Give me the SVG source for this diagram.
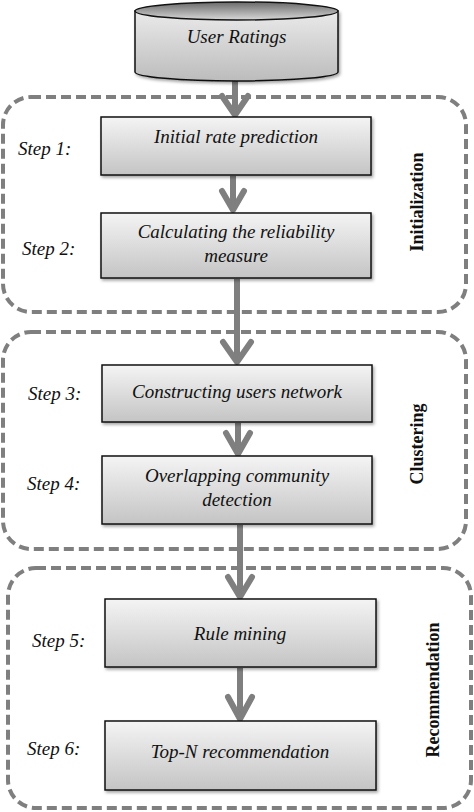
<svg xmlns="http://www.w3.org/2000/svg" width="474" height="812" viewBox="0 0 474 812">
<defs>
<linearGradient id="boxg" x1="0" y1="0" x2="0" y2="1">
<stop offset="0" stop-color="#f4f4f4"/>
<stop offset="1" stop-color="#c4c4c4"/>
</linearGradient>
<linearGradient id="cylg" x1="0" y1="0" x2="0" y2="1">
<stop offset="0" stop-color="#eaeaea"/>
<stop offset="1" stop-color="#bcbcbc"/>
</linearGradient>
<linearGradient id="topg" x1="0" y1="0" x2="0" y2="1">
<stop offset="0" stop-color="#6a6a6a"/>
<stop offset="1" stop-color="#d8d8d8"/>
</linearGradient>
<filter id="sh" x="-10%" y="-10%" width="130%" height="140%">
<feDropShadow dx="1.5" dy="2" stdDeviation="1.5" flood-color="#000" flood-opacity="0.35"/>
</filter>
</defs>
<style>
.box{fill:url(#boxg);stroke:#111;stroke-width:1.5;filter:url(#sh)}
.frame{fill:none;stroke:#7f7f7f;stroke-width:4;stroke-dasharray:10 5}
.t{font-family:"Liberation Serif","Times New Roman",serif;font-style:italic;font-size:19px;fill:#111;text-anchor:middle}
.s{font-family:"Liberation Serif","Times New Roman",serif;font-style:italic;font-size:19px;fill:#111}
.v{font-family:"Liberation Serif","Times New Roman",serif;font-weight:bold;font-size:18px;fill:#111;text-anchor:middle}
.shaft{stroke:#7f7f7f;stroke-width:6;fill:none}
.head{stroke:#7f7f7f;stroke-width:6;fill:none;stroke-linecap:round;stroke-linejoin:round}
</style>
<rect width="474" height="812" fill="#fff"/>

<g id="frames">
<rect id="frame-initialization" class="frame" x="3" y="97" width="463" height="215" rx="28" ry="28"/>
<rect id="frame-clustering" class="frame" x="3" y="332" width="463" height="217" rx="28" ry="28"/>
<rect id="frame-recommendation" class="frame" x="8" y="568" width="463" height="240" rx="28" ry="28"/>
</g>

<g id="connectors">
<line class="shaft" x1="235" y1="80" x2="235" y2="114"/>
<polyline class="head" points="222,96 235,115 248,96"/>
<line class="shaft" x1="233" y1="176" x2="233" y2="210"/>
<polyline class="head" points="222,191 233,210 244,191"/>
<line class="shaft" x1="237" y1="279" x2="237" y2="361"/>
<polyline class="head" points="223,342 237,362 251,342"/>
<line class="shaft" x1="238" y1="423" x2="238" y2="453"/>
<polyline class="head" points="226,433 238,454 250,433"/>
<line class="shaft" x1="240" y1="525" x2="240" y2="596"/>
<polyline class="head" points="228,577 240,597 252,577"/>
<line class="shaft" x1="240" y1="668" x2="240" y2="718"/>
<polyline class="head" points="228,697 240,719 252,697"/>
</g>

<g id="user-ratings">
<path d="M135,11 L135,72 A101.5,9 0 0 0 338,72 L338,11 Z" fill="url(#cylg)" stroke="#111" stroke-width="1.5" filter="url(#sh)"/>
<ellipse cx="236.5" cy="11" rx="101.5" ry="9" fill="url(#topg)" stroke="#111" stroke-width="1.5"/>
<text class="t" x="236.5" y="43">User Ratings</text>
</g>

<g id="step1">
<rect class="box" x="101" y="117" width="270" height="58"/>
<text class="t" x="236" y="143">Initial rate prediction</text>
<text class="s" x="18" y="155">Step 1:</text>
</g>
<g id="step2">
<rect class="box" x="101" y="213" width="270" height="65"/>
<text class="t" x="236" y="238">Calculating the reliability</text>
<text class="t" x="236" y="262">measure</text>
<text class="s" x="22" y="255">Step 2:</text>
</g>
<g id="step3">
<rect class="box" x="102" y="365" width="270" height="57"/>
<text class="t" x="237" y="398">Constructing users network</text>
<text class="s" x="28" y="400">Step 3:</text>
</g>
<g id="step4">
<rect class="box" x="102" y="456" width="270" height="68"/>
<text class="t" x="237" y="482">Overlapping community</text>
<text class="t" x="237" y="506">detection</text>
<text class="s" x="27" y="490">Step 4:</text>
</g>
<g id="step5">
<rect class="box" x="105" y="599" width="271" height="68"/>
<text class="t" x="240" y="640">Rule mining</text>
<text class="s" x="32" y="647">Step 5:</text>
</g>
<g id="step6">
<rect class="box" x="105" y="721" width="271" height="69"/>
<text class="t" x="240" y="758">Top-N recommendation</text>
<text class="s" x="27" y="755">Step 6:</text>
</g>

<g id="labels">
<text class="v" transform="translate(423,202) rotate(-90)">Initialization</text>
<text class="v" transform="translate(423,444) rotate(-90)">Clustering</text>
<text class="v" transform="translate(439,690) rotate(-90)">Recommendation</text>
</g>
</svg>
